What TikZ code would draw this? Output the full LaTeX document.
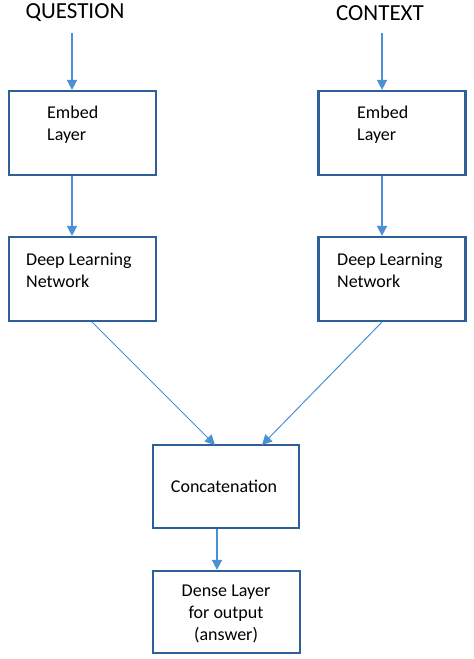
\documentclass[tikz,border=0pt]{standalone}
\usepackage{fontspec}
\setmainfont{Carlito}
\usetikzlibrary{arrows.meta}
\definecolor{boxblue}{HTML}{2F5F98}
\definecolor{arrblue}{HTML}{4A90D4}
\begin{document}
\begin{tikzpicture}[x=1pt,y=-1pt,
  box/.style={draw=boxblue,line width=2.2pt,minimum width=147pt,minimum height=84pt,inner sep=0pt},
  txt/.style={font=\fontsize{18}{22}\selectfont,inner sep=0pt},
  ttl/.style={font=\fontsize{23}{26}\selectfont,inner sep=0pt},
  arr/.style={draw=arrblue,line width=1.5pt,-{Triangle[length=10pt,width=10pt]}},
  darr/.style={draw=arrblue,line width=1pt,-{Triangle[length=10pt,width=10pt]}}]
\useasboundingbox (0,0) rectangle (474,659);
% titles
\node[ttl] (q) at (75,13) {QUESTION};
\node[ttl] (c) at (380,13) {CONTEXT};
% boxes
\node[box] (e1) at (82.5,133) {};
\node[box] (e2) at (392,133) {};
\node[box] (d1) at (82.5,279) {};
\node[box] (d2) at (392,279) {};
\node[box,minimum width=146pt,minimum height=83pt] (cc) at (226,486.5) {};
\node[box,minimum width=147pt,minimum height=82pt] (dl) at (226.5,612) {};
% texts
\node[txt,anchor=base west] (e1a) at (47,118) {Embed};
\node[txt,anchor=base west] (e1b) at (47,140) {Layer};
\node[txt,anchor=base west] (e2a) at (357,118) {Embed};
\node[txt,anchor=base west] (e2b) at (357,140) {Layer};
\node[txt,anchor=base west] (d1a) at (26,265) {Deep Learning};
\node[txt,anchor=base west] (d1b) at (26,287) {Network};
\node[txt,anchor=base west] (d2a) at (337,265) {Deep Learning};
\node[txt,anchor=base west] (d2b) at (337,287) {Network};
\node[txt,anchor=base] (cct) at (224,492) {Concatenation};
\node[txt,anchor=base] (dla) at (226,596) {Dense Layer};
\node[txt,anchor=base] (dlb) at (226,618) {for output};
\node[txt,anchor=base] (dlc) at (226,640) {(answer)};
% connector anchors
\coordinate (qs) at (72,33);
\coordinate (cs) at (382,33);
\coordinate (l1) at (92,322);
\coordinate (r1) at (382,322);
\coordinate (l2) at (215,445);
\coordinate (r2) at (262,445);
% connectors
\draw[arr] (qs) -- (qs |- e1.north);
\draw[arr] (cs) -- (cs |- e2.north);
\draw[arr] (qs |- e1.south) -- (qs |- d1.north);
\draw[arr] (cs |- e2.south) -- (cs |- d2.north);
\draw[darr] (l1) -- (l2);
\draw[darr] (r1) -- (r2);
\coordinate (cx) at (217,0);
\draw[arr] (cx |- cc.south) -- (cx |- dl.north);
\end{tikzpicture}
\end{document}
